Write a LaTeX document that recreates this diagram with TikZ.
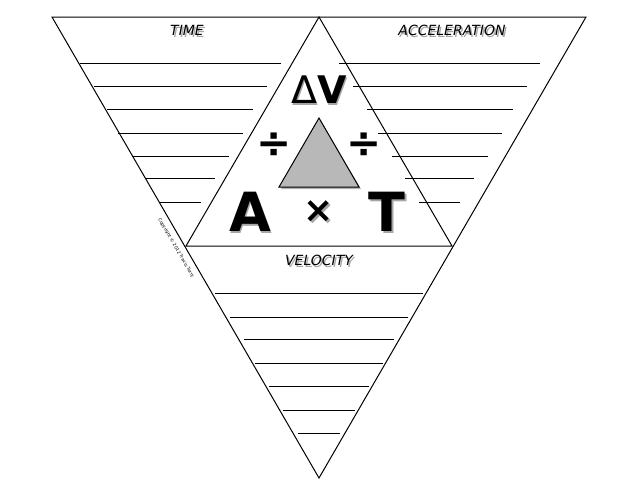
\documentclass[tikz,border=0pt]{standalone}
\usepackage{fontspec}
\setmainfont{DejaVu Sans}
\newcommand{\shd}[1]{\rlap{\kern1.5pt\raisebox{-2pt}{\textcolor{black!35}{#1}}}#1}
\begin{document}
\begin{tikzpicture}[x=1pt,y=-1pt,line width=1pt,
  lbl/.style={font=\fontsize{14}{14}\selectfont\itshape},
  big/.style={font=\fontsize{54}{54}\selectfont\bfseries}]
\useasboundingbox (0,0) rectangle (638,493);
\coordinate (TL) at (52,17); \coordinate (TR) at (586,17); \coordinate (B) at (319,478);
\coordinate (IA) at (319,17); \coordinate (IL) at (186,246); \coordinate (IR) at (452,246);
\draw (TL) -- (TR) -- (B) -- cycle;
\draw (IA) -- (IR) -- (IL) -- cycle;
\fill[black!30] (320.5,120) -- (361,189) -- (281,189) -- cycle;
\draw[fill=black!28] (319,118) -- (359,187) -- (279,187) -- cycle;
\foreach \y/\a/\b in {63/80/281,86/94/267,109/107/253,133/118/243,156/132/229,178/145/215,202/160/201}
  \draw (\a,\y) -- (\b,\y);
\foreach \y/\a/\b in {63/339/540,86/353/527,109/367/513,133/378/502,156/392/488,178/405/474,202/419/460}
  \draw (\a,\y) -- (\b,\y);
\foreach \y/\a/\b in {293/215/423,317/230/408,339/244/394,363/255/383,386/269/369,410/283/355,433/298/340}
  \draw (\a,\y) -- (\b,\y);
\node[lbl] (t) at (187,31) {\shd{TIME}};
\node[lbl] (ac) at (452,31) {\shd{ACCELERATION}};
\node[lbl] (v) at (319,261) {\shd{VELOCITY}};
\node[font=\fontsize{38}{38}\selectfont\bfseries] (dv) at (319,91) {\shd{{\mdseries Δ}V}};
\node[font=\fontsize{42}{42}\selectfont\bfseries] (d1) at (274,145) {÷};
\node[font=\fontsize{42}{42}\selectfont\bfseries] (d2) at (364,145) {÷};
\node[big,inner sep=0pt] (a) at (250,213) {\shd{A}};
\node[font=\fontsize{36}{36}\selectfont\bfseries,inner sep=0pt] (x) at (319,213) {\shd{×}};
\node[big,inner sep=0pt] (tt) at (387,213) {\shd{T}};
\node[font=\fontsize{4.5}{5}\selectfont,rotate=-60] (c) at (176,248) {Copyright © 2012 Travis Terry};
\end{tikzpicture}
\end{document}
